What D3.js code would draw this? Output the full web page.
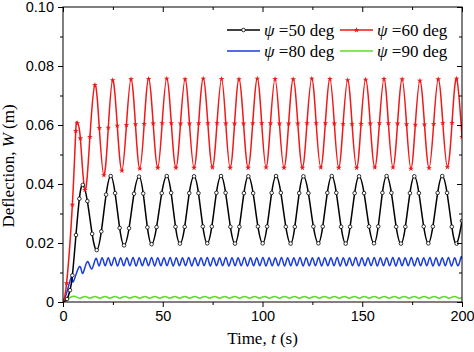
<!DOCTYPE html>
<html>
<head>
<meta charset="utf-8">
<script src="https://cdn.jsdelivr.net/npm/d3@7"></script>
<style>
  body { margin: 0; background: #fff; overflow: hidden; }
  svg { display: block; }
  .tick text { font-family: "Liberation Sans", Arial, sans-serif; font-size: 14.5px; fill: #000; }
  .title { font-family: "Liberation Serif", "Times New Roman", serif; font-size: 17px; fill: #000; }
</style>
</head>
<body>
<div id="chart"></div>
<script>
// series: [time (s), deflection (m)]
const psi50 = [
  [0,0],[2,0.001],[3.5,0.004],[4.7,0.009],[6.5,0.0227],[8.2,0.035],[9.9,0.0397],
  [12.2,0.0342],[14.6,0.0231],[16.9,0.0176],
  [19.2,0.0239],[21.6,0.0364],[23.9,0.0427],
  [26.1,0.0369],[28.4,0.0251],[30.6,0.0192],
  [33.1,0.0250],[35.6,0.0367],[38.1,0.0425],
  [40.2,0.0368],[42.3,0.0253],[44.4,0.0196],
  [46.9,0.0254],[49.5,0.0369],[52.0,0.0427],
  [54.2,0.0370],[56.4,0.0255],[58.6,0.0198],
  [61.0,0.0255],[63.3,0.0369],[65.7,0.0426],
  [67.9,0.0369],[70.1,0.0256],[72.3,0.0199],
  [74.6,0.0256],[76.9,0.0370],[79.2,0.0427],
  [81.5,0.0370],[83.9,0.0255],[86.2,0.0198],
  [88.4,0.0255],[90.7,0.0369],[92.9,0.0426],
  [95.3,0.0369],[97.7,0.0256],[100.1,0.0199],
  [102.3,0.0256],[104.6,0.0370],[106.8,0.0427],
  [109.2,0.0370],[111.7,0.0255],[114.1,0.0198],
  [116.2,0.0255],[118.4,0.0369],[120.5,0.0426],
  [123.0,0.0369],[125.5,0.0256],[128.0,0.0199],
  [130.2,0.0256],[132.5,0.0370],[134.7,0.0427],
  [137.0,0.0370],[139.4,0.0255],[141.7,0.0198],
  [143.9,0.0255],[146.2,0.0369],[148.4,0.0426],
  [150.9,0.0369],[153.4,0.0256],[155.9,0.0199],
  [158.0,0.0256],[160.1,0.0370],[162.2,0.0427],
  [164.6,0.0370],[167.0,0.0255],[169.4,0.0198],
  [171.6,0.0255],[173.9,0.0369],[176.1,0.0426],
  [178.4,0.0369],[180.8,0.0256],[183.1,0.0199],
  [185.4,0.0256],[187.8,0.0370],[190.1,0.0427],
  [192.5,0.0370],[194.9,0.0255],[197.3,0.0198],
  [200,0.0275]
];

const psi60 = [
  [0,0],[1.8,0.0064],[4.7,0.033],[6.4,0.058],[7.2,0.0606],[8.7,0.0555],
  [11.0,0.038],[13.5,0.056],[16.0,0.0736],[18.2,0.059],[20.5,0.043],[22.7,0.0591],
  [24.9,0.0752],[27.2,0.0598],[29.5,0.0445],[31.8,0.0600],[34.1,0.0755],[36.3,0.0603],
  [38.5,0.0452],[40.7,0.0604],[42.9,0.0756],[45.2,0.0605],[47.5,0.0455],[49.7,0.0606],
  [52.0,0.0757],[54.3,0.0606],[56.6,0.0455],[58.9,0.0605],[61.2,0.0755],[63.4,0.0605],
  [65.7,0.0455],[68.0,0.0606],[70.3,0.0757],[72.6,0.0606],[74.9,0.0456],[77.2,0.0606],
  [79.5,0.0756],[81.6,0.0605],[83.8,0.0455],[86.0,0.0605],[88.2,0.0755],[90.5,0.0605],
  [92.8,0.0455],[95.1,0.0606],[97.4,0.0757],[99.6,0.0606],[101.8,0.0456],[104.0,0.0606],
  [106.3,0.0756],[108.5,0.0605],[110.8,0.0455],[113.1,0.0605],[115.4,0.0755],[117.7,0.0605],
  [120.0,0.0455],[122.3,0.0606],[124.7,0.0757],[126.9,0.0606],[129.2,0.0456],[131.5,0.0606],
  [133.8,0.0756],[136.0,0.0605],[138.2,0.0455],[140.4,0.0603],[142.7,0.0752],[144.9,0.0603],
  [147.2,0.0455],[149.4,0.0604],[151.7,0.0754],[154.0,0.0605],[156.3,0.0456],[158.6,0.0606],
  [160.9,0.0756],[163.1,0.0606],[165.4,0.0456],[167.7,0.0605],[170.0,0.0755],[172.2,0.0603],
  [174.4,0.0452],[176.6,0.0601],[178.9,0.0750],[181.2,0.0602],[183.5,0.0454],[185.8,0.0604],
  [188.1,0.0755],[190.4,0.0606],[192.7,0.0457],[195.0,0.0607],[197.3,0.0757],[200,0.0560]
];

const psi80 = [
  [0,0],[2,0.0035],[4.3,0.0086],[5.2,0.0069],[8.2,0.0120],[9.9,0.0097],[12.2,0.0137],[14.4,0.0112],
  [16.5,0.0148],[18.05,0.0122],[19.6,0.0150],[21.15,0.0123],[22.7,0.0150],[24.25,0.0123],
  [25.8,0.0151],[27.35,0.0122],[28.9,0.0150],[30.45,0.0123],[32.0,0.0150],[33.55,0.0123],
  [35.1,0.0151],[36.65,0.0122],[38.2,0.0150],[39.75,0.0123],[41.3,0.0150],[42.85,0.0123],
  [44.4,0.0151],[45.95,0.0122],[47.5,0.0150],[49.05,0.0123],[50.6,0.0150],[52.15,0.0123],
  [53.7,0.0151],[55.25,0.0122],[56.8,0.0150],[58.35,0.0123],[59.9,0.0150],[61.45,0.0123],
  [63.0,0.0151],[64.55,0.0122],[66.1,0.0150],[67.65,0.0123],[69.2,0.0150],[70.75,0.0123],
  [72.3,0.0151],[73.85,0.0122],[75.4,0.0150],[76.95,0.0123],[78.5,0.0150],[80.05,0.0123],
  [81.6,0.0151],[83.15,0.0122],[84.7,0.0150],[86.25,0.0123],[87.8,0.0150],[89.35,0.0123],
  [90.9,0.0151],[92.45,0.0122],[94.0,0.0150],[95.55,0.0123],[97.1,0.0150],[98.65,0.0123],
  [100.2,0.0151],[101.75,0.0122],[103.3,0.0150],[104.85,0.0123],[106.4,0.0150],[107.95,0.0123],
  [109.5,0.0151],[111.05,0.0122],[112.6,0.0150],[114.15,0.0123],[115.7,0.0150],[117.25,0.0123],
  [118.8,0.0151],[120.35,0.0122],[121.9,0.0150],[123.45,0.0123],[125.0,0.0150],[126.55,0.0123],
  [128.1,0.0151],[129.65,0.0122],[131.2,0.0150],[132.75,0.0123],[134.3,0.0150],[135.85,0.0123],
  [137.4,0.0151],[138.95,0.0122],[140.5,0.0150],[142.05,0.0123],[143.6,0.0150],[145.15,0.0123],
  [146.7,0.0151],[148.25,0.0122],[149.8,0.0150],[151.35,0.0123],[152.9,0.0150],[154.45,0.0123],
  [156.0,0.0151],[157.55,0.0122],[159.1,0.0150],[160.65,0.0123],[162.2,0.0150],[163.75,0.0123],
  [165.3,0.0151],[166.85,0.0122],[168.4,0.0150],[169.95,0.0123],[171.5,0.0150],[173.05,0.0123],
  [174.6,0.0151],[176.15,0.0122],[177.7,0.0150],[179.25,0.0123],[180.8,0.0150],[182.35,0.0123],
  [183.9,0.0151],[185.45,0.0122],[187.0,0.0150],[188.55,0.0123],[190.1,0.0150],[191.65,0.0123],
  [193.2,0.0151],[194.75,0.0122],[196.3,0.0150],[197.85,0.0123],[199.4,0.0150],[200,0.0147]
];

const psi90 = [
  [0,0],[1,0.0006],[2.5,0.0012],[4,0.0017],
  [6,0.0019],[8.5,0.0013],[11,0.0019],[13.5,0.0013],[16,0.0019],[18.5,0.0013],
  [21,0.0019],[23.5,0.0013],[26,0.0019],[28.5,0.0013],[31,0.0019],[33.5,0.0013],
  [36,0.0019],[38.5,0.0013],[41,0.0019],[43.5,0.0013],[46,0.0019],[48.5,0.0013],
  [51,0.0019],[53.5,0.0013],[56,0.0019],[58.5,0.0013],[61,0.0019],[63.5,0.0013],
  [66,0.0019],[68.5,0.0013],[71,0.0019],[73.5,0.0013],[76,0.0019],[78.5,0.0013],
  [81,0.0019],[83.5,0.0013],[86,0.0019],[88.5,0.0013],[91,0.0019],[93.5,0.0013],
  [96,0.0019],[98.5,0.0013],[101,0.0019],[103.5,0.0013],[106,0.0019],[108.5,0.0013],
  [111,0.0019],[113.5,0.0013],[116,0.0019],[118.5,0.0013],[121,0.0019],[123.5,0.0013],
  [126,0.0019],[128.5,0.0013],[131,0.0019],[133.5,0.0013],[136,0.0019],[138.5,0.0013],
  [141,0.0019],[143.5,0.0013],[146,0.0019],[148.5,0.0013],[151,0.0019],[153.5,0.0013],
  [156,0.0019],[158.5,0.0013],[161,0.0019],[163.5,0.0013],[166,0.0019],[168.5,0.0013],
  [171,0.0019],[173.5,0.0013],[176,0.0019],[178.5,0.0013],[181,0.0019],[183.5,0.0013],
  [186,0.0019],[188.5,0.0013],[191,0.0019],[193.5,0.0013],[196,0.0019],[198.5,0.0013],
  [200,0.0016]
];

const xTicks = [0, 50, 100, 150, 200];
const xMinor = [25, 75, 125, 175];
const yTicks = [0, 0.02, 0.04, 0.06, 0.08, 0.10];
const yMinor = [0.01, 0.03, 0.05, 0.07, 0.09];

const series = [
  { name: '50', data: psi50, color: '#000000', marker: 'circle' },
  { name: '60', data: psi60, color: '#f01818', marker: 'star' },
  { name: '80', data: psi80, color: '#1a3ddc', marker: null },
  { name: '90', data: psi90, color: '#5fdc2a', marker: null }
];

const width = 474, height = 352;
const margin = { top: 7, right: 12, bottom: 50, left: 63 };
const innerWidth = width - margin.left - margin.right;
const innerHeight = height - margin.top - margin.bottom;

const svg = d3.select('#chart').append('svg')
  .attr('width', width)
  .attr('height', height);

const g = svg.append('g')
  .attr('transform', `translate(${margin.left},${margin.top})`);

const xScale = d3.scaleLinear().domain([0, 200]).range([0, innerWidth]);
const yScale = d3.scaleLinear().domain([0, 0.10]).range([innerHeight, 0]);

g.append('clipPath').attr('id', 'clip')
  .append('rect').attr('y', -1).attr('width', innerWidth).attr('height', innerHeight + 2);

const line = d3.line()
  .x(d => xScale(d[0]))
  .y(d => yScale(d[1]))
  .curve(d3.curveNatural);

const plot = g.append('g').attr('clip-path', 'url(#clip)');

// green and blue underneath, black, then red on top
[series[3], series[2], series[0], series[1]].forEach(s => {
  plot.append('path')
    .datum(s.data)
    .attr('fill', 'none')
    .attr('stroke', s.color)
    .attr('stroke-width', 1.5)
    .attr('d', line);
});

const star = d3.symbol().type(d3.symbolStar).size(10);

plot.selectAll('.m50').data(psi50.slice(1))
  .enter().append('circle')
    .attr('cx', d => xScale(d[0]))
    .attr('cy', d => yScale(d[1]))
    .attr('r', 1.8)
    .attr('fill', '#fff')
    .attr('stroke', '#000')
    .attr('stroke-width', 0.8);

plot.selectAll('.m60').data(psi60.slice(1))
  .enter().append('path')
    .attr('d', star)
    .attr('transform', d => `translate(${xScale(d[0])},${yScale(d[1])})`)
    .attr('fill', '#f01818');

// bottom/left ticks point out, top/right point in
g.append('g').attr('transform', `translate(0,${innerHeight})`)
  .call(d3.axisBottom(xScale).tickValues(xTicks).tickSize(5).tickPadding(4).tickFormat(d3.format('d')));
g.append('g').attr('class', 'bare').attr('transform', `translate(0,${innerHeight})`)
  .call(d3.axisBottom(xScale).tickValues(xMinor).tickSize(3));

g.append('g')
  .call(d3.axisLeft(yScale).tickValues(yTicks).tickSize(5).tickPadding(4)
    .tickFormat(d => d === 0 ? '0' : d3.format('.2f')(d)));
g.append('g').attr('class', 'bare')
  .call(d3.axisLeft(yScale).tickValues(yMinor).tickSize(3));

g.append('g').attr('class', 'bare').call(d3.axisTop(xScale).tickValues(xTicks).tickSize(-5));
g.append('g').attr('class', 'bare').call(d3.axisTop(xScale).tickValues(xMinor).tickSize(-3));
g.append('g').attr('class', 'bare').attr('transform', `translate(${innerWidth},0)`)
  .call(d3.axisRight(yScale).tickValues(yTicks).tickSize(-5));
g.append('g').attr('class', 'bare').attr('transform', `translate(${innerWidth},0)`)
  .call(d3.axisRight(yScale).tickValues(yMinor).tickSize(-3));

g.selectAll('.bare .tick text').remove();
g.selectAll('.domain').remove();
g.selectAll('.tick line').attr('stroke', '#000').attr('stroke-width', 1);

g.append('rect')
  .attr('width', innerWidth)
  .attr('height', innerHeight)
  .attr('fill', 'none')
  .attr('stroke', '#000')
  .attr('stroke-width', 1);

// axis titles
const xTitle = svg.append('text')
  .attr('class', 'title')
  .attr('x', margin.left + innerWidth / 2)
  .attr('y', 344)
  .attr('text-anchor', 'middle');
xTitle.append('tspan').text('Time, ');
xTitle.append('tspan').attr('font-style', 'italic').text('t');
xTitle.append('tspan').text(' (s)');

const yTitle = svg.append('text')
  .attr('class', 'title')
  .attr('transform', `translate(14,166) rotate(-90)`)
  .attr('text-anchor', 'middle');
yTitle.append('tspan').text('Deflection, ');
yTitle.append('tspan').attr('font-style', 'italic').text('W');
yTitle.append('tspan').text(' (m)');

// legend
const legendPos = [[227, 30], [340, 30], [227, 51], [340, 51]];
series.forEach((s, i) => {
  const [lx, ly] = legendPos[i];
  const lg = svg.append('g').attr('transform', `translate(${lx},${ly})`);
  lg.append('line').attr('x1', 0).attr('x2', 33).attr('y1', 0).attr('y2', 0)
    .attr('stroke', s.color).attr('stroke-width', 1.5);
  if (s.marker === 'circle') {
    lg.append('circle').attr('cx', 16.5).attr('cy', 0).attr('r', 1.8)
      .attr('fill', '#fff').attr('stroke', '#000').attr('stroke-width', 0.8);
  } else if (s.marker === 'star') {
    lg.append('path').attr('d', star).attr('transform', 'translate(16.5,0)').attr('fill', s.color);
  }
  const t = lg.append('text').attr('class', 'title').attr('x', 37).attr('y', 5.5);
  t.append('tspan').attr('font-style', 'italic').text('\u03c8');
  t.append('tspan').text(` =${s.name} deg`);
});
</script>
</body>
</html>
